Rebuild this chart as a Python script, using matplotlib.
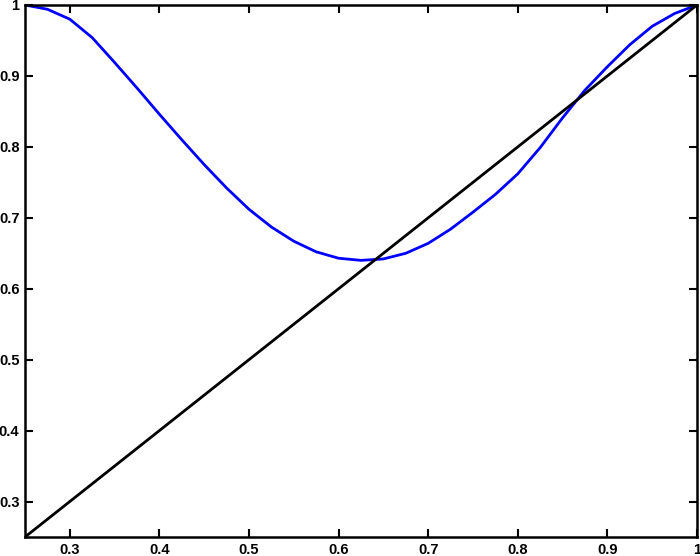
import matplotlib
matplotlib.use("Agg")
import matplotlib.pyplot as plt

# Blue curve
curve_x = [0.250, 0.275, 0.300, 0.325, 0.350, 0.375, 0.400, 0.425, 0.450, 0.475,
           0.500, 0.525, 0.550, 0.575, 0.600, 0.625, 0.650, 0.675, 0.700, 0.725,
           0.750, 0.775, 0.800, 0.825, 0.850, 0.875, 0.900, 0.925, 0.950, 0.975,
           1.000]
curve_y = [1.000, 0.994, 0.980, 0.954, 0.919, 0.883, 0.846, 0.810, 0.775, 0.742,
           0.712, 0.687, 0.667, 0.652, 0.643, 0.640, 0.642, 0.650, 0.664, 0.684,
           0.708, 0.733, 0.762, 0.799, 0.841, 0.880, 0.913, 0.944, 0.970, 0.988,
           1.000]

# Black diagonal
line_x = [0.25, 1.0]
line_y = [0.25, 1.0]

xticks = [0.3, 0.4, 0.5, 0.6, 0.7, 0.8, 0.9, 1.0]
xticklabels = ["0.3", "0.4", "0.5", "0.6", "0.7", "0.8", "0.9", "1"]
yticks = [0.3, 0.4, 0.5, 0.6, 0.7, 0.8, 0.9, 1.0]
yticklabels = ["0.3", "0.4", "0.5", "0.6", "0.7", "0.8", "0.9", "1"]

plt.rcParams['font.family'] = ['Liberation Sans', 'DejaVu Sans']

fig = plt.figure(figsize=(7.0, 5.56), dpi=100)
ax = fig.add_axes([25/700, 19/556, 672/700, 532/556])

ax.plot(curve_x, curve_y, color='#0000ff', linewidth=2.0,
        solid_capstyle='round', solid_joinstyle='round')
ax.plot(line_x, line_y, color='black', linewidth=2.0)

ax.set_xlim(0.25, 1.0)
ax.set_ylim(0.25, 1.0)
ax.set_xticks(xticks)
ax.set_xticklabels(xticklabels, fontweight='bold', fontsize=10.5)
ax.set_yticks(yticks)
ax.set_yticklabels(yticklabels, fontweight='bold', fontsize=10.5)
ax.tick_params(direction='in', length=6, width=1.5, top=True, right=True, pad=4)
for s in ax.spines.values():
    s.set_linewidth(1.8)

fig.savefig("out.png", dpi=100)
